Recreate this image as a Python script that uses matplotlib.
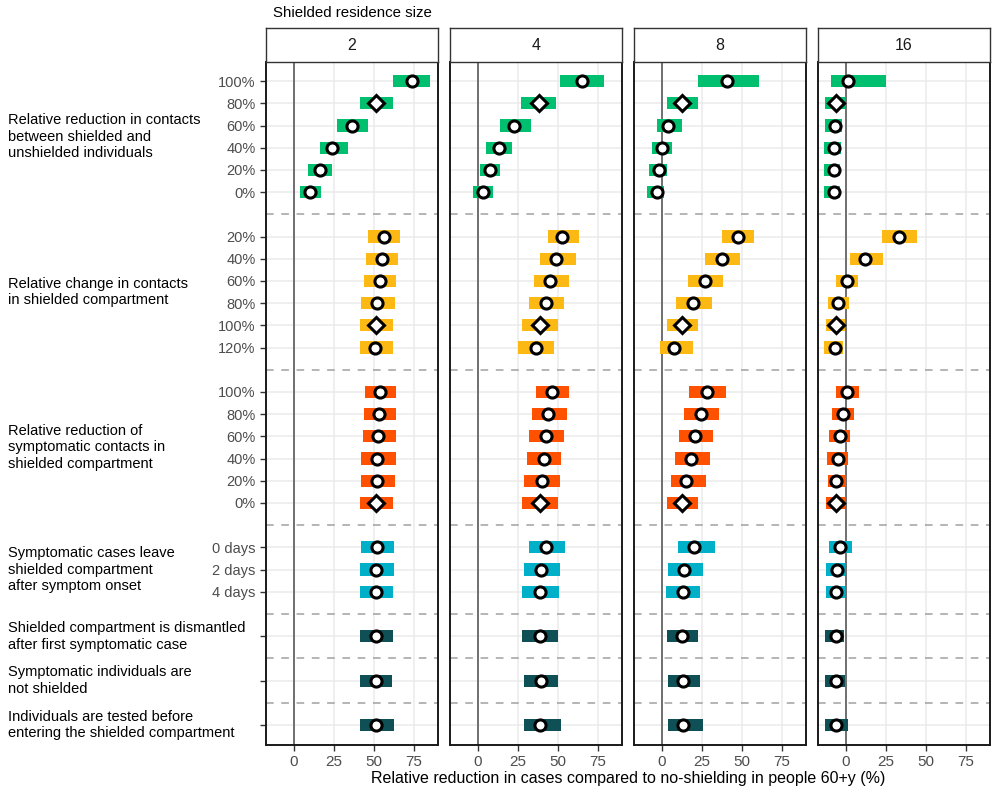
import matplotlib.pyplot as plt
import matplotlib.transforms as mtransforms

plt.rcParams['font.family'] = ['Liberation Sans', 'DejaVu Sans']

sizes = ["2", "4", "8", "16"]

# rows top-down; '' means no tick label
green_ticks = ["100%", "80%", "60%", "40%", "20%", "0%"]
yellow_ticks = ["20%", "40%", "60%", "80%", "100%", "120%"]
red_ticks = ["100%", "80%", "60%", "40%", "20%", "0%"]
cyan_ticks = ["0 days", "2 days", "4 days"]

group_labels = [
    "Relative reduction in contacts\nbetween shielded and\nunshielded individuals",
    "Relative change in contacts\nin shielded compartment",
    "Relative reduction of\nsymptomatic contacts in\nshielded compartment",
    "Symptomatic cases leave\nshielded compartment\nafter symptom onset",
    "Shielded compartment is dismantled\nafter first symptomatic case",
    "Symptomatic individuals are\nnot shielded",
    "Individuals are tested before\nentering the shielded compartment",
]

# values per residence size (2, 4, 8, 16), rows in tick order
green_med = [[74, 51, 36, 24, 16, 10], [65, 38, 22.5, 13, 7.5, 3],
             [40.5, 12.5, 4, 0, -2, -3], [1.5, -6, -7, -7.5, -7.5, -7.5]]
green_lo = [[62, 41, 27, 16, 9, 4], [51, 27, 14, 5, 1, -3],
            [22.5, 3, -3, -6, -8, -9.5], [-9.5, -13, -13, -13.5, -13.5, -13.5]]
green_hi = [[85, 62, 46, 34, 24, 17], [79, 49, 33, 21, 14, 9.5],
            [60.5, 22.5, 12.5, 6, 3, 1], [25, -0.5, -2.5, -3, -3.5, -3.5]]

yellow_med = [[56, 55, 54, 52, 51, 50.5], [52.5, 49, 45, 42.5, 39, 36],
              [47.5, 37.5, 27, 19.5, 12.5, 7.5], [33, 12, 0.5, -5, -6, -7]]
yellow_lo = [[46, 45, 44, 42, 41, 41], [44, 39, 35, 32, 27.5, 25],
             [37.5, 27, 16, 9, 3, -1], [22.5, 2.5, -6, -11, -12.5, -13.5]]
yellow_hi = [[66, 65, 64, 63, 62, 62], [63, 61, 57, 54, 50, 47.5],
             [57.5, 49, 38, 31, 22.5, 19.5], [44.5, 23, 7.5, 2, -0.5, -2]]

red_med = [[53.5, 53, 52.5, 52, 52, 51], [46, 44, 42.5, 41, 40, 39],
           [28, 24.5, 20.5, 18, 15, 12.5], [0.5, -2, -4, -5, -6, -6]]
red_lo = [[44.5, 44, 43, 42, 42, 41], [36, 34, 32, 30.5, 29, 27.5],
          [17, 14, 10.5, 8, 5.5, 3], [-6, -9, -10.5, -12, -11.5, -12.5]]
red_hi = [[64, 63.5, 63.5, 63.5, 63, 62], [57, 55.5, 54, 52, 51, 50],
          [40, 35.5, 32, 30, 27.5, 22.5], [8, 5, 2.5, 1, 0, -0.5]]

cyan_med = [[52, 51.5, 51], [42.5, 39.5, 39], [20, 14, 13], [-4, -5.5, -6]]
cyan_lo = [[42, 41, 41.5], [32, 29, 27.5], [10, 3.5, 2.5], [-10.5, -12.5, -12.5]]
cyan_hi = [[62.5, 62.5, 62], [54.5, 51, 50.5], [33, 25.5, 24], [4, -0.5, -0.5]]

# dismantled, not shielded, tested
teal_med = [[51.5, 51.5, 51], [39, 39.5, 39], [12.5, 13, 13], [-6, -6, -6]]
teal_lo = [[41, 41, 41.5], [27.5, 29, 29], [3, 3.5, 3.5], [-13, -13, -13]]
teal_hi = [[62, 61, 62.5], [50, 50, 52], [22.5, 24, 25.5], [-1, -0.5, 1.5]]

# baseline scenario (diamond) index in each group
green_base = 1
yellow_base = 4
red_base = 5

groups = [
    (green_ticks, green_med, green_lo, green_hi, "#00BF6F", green_base),
    (yellow_ticks, yellow_med, yellow_lo, yellow_hi, "#FDB913", yellow_base),
    (red_ticks, red_med, red_lo, red_hi, "#FF5100", red_base),
    (cyan_ticks, cyan_med, cyan_lo, cyan_hi, "#00AFC8", None),
    ([""], [[m[0]] for m in teal_med], [[m[0]] for m in teal_lo], [[m[0]] for m in teal_hi], "#0E5055", None),
    ([""], [[m[1]] for m in teal_med], [[m[1]] for m in teal_lo], [[m[1]] for m in teal_hi], "#0E5055", None),
    ([""], [[m[2]] for m in teal_med], [[m[2]] for m in teal_lo], [[m[2]] for m in teal_hi], "#0E5055", None),
]

# row positions: groups separated by one blank row
row_pos = []
sep_pos = []
y = 0
for gi, g in enumerate(groups):
    rows = []
    for _ in g[0]:
        rows.append(-y)
        y += 1
    row_pos.append(rows)
    if gi < len(groups) - 1:
        sep_pos.append(-y)
        y += 1

all_ticks = [p for rows in row_pos for p in rows]
all_labels = [lab for g in groups for lab in g[0]]

W, H = 1000, 796
fig = plt.figure(figsize=(W / 100, H / 100), dpi=100)

axes = []
for k, size in enumerate(sizes):
    x0 = 266 + 184 * k
    ax = fig.add_axes([x0 / W, 51 / H, 172 / W, 683 / H])
    axes.append(ax)
    ax.set_xlim(-17.5, 90)
    ax.set_ylim(-29.9, 0.86)
    ax.set_xticks([0, 25, 50, 75])
    ax.set_yticks(all_ticks)
    ax.grid(True, color="#EBEBEB", lw=1.1, zorder=0)
    ax.set_axisbelow(True)
    ax.axvline(0, color="#5A5A5A", lw=1.2, zorder=1)
    for s in sep_pos:
        ax.axhline(s, color="#A0A0A0", lw=1.1, ls=(0, (5, 5)), zorder=1)

    for gi, (ticks, med, lo, hi, col, base) in enumerate(groups):
        ys = row_pos[gi]
        m, l, h = med[k], lo[k], hi[k]
        ax.barh(ys, [b - a for a, b in zip(l, h)], left=l, height=0.55,
                color=col, edgecolor="none", zorder=2)
        for i, yy in enumerate(ys):
            if base is not None and i == base:
                ax.plot(m[i], yy, marker="D", ms=7.8, mfc="white", mec="black",
                        mew=2.2, zorder=3)
            else:
                ax.plot(m[i], yy, marker="o", ms=8, mfc="white", mec="black",
                        mew=2.2, zorder=3)

    for sp in ax.spines.values():
        sp.set_color("#1A1A1A")
        sp.set_linewidth(1.4)
    ax.tick_params(axis="x", labelsize=11, labelcolor="#4D4D4D",
                   color="#333333", length=4, width=1)
    if k == 0:
        ax.set_yticklabels(all_labels)
        ax.tick_params(axis="y", labelsize=10.5, labelcolor="#4D4D4D",
                       color="#333333", length=4, width=1)
    else:
        ax.tick_params(axis="y", length=0, labelleft=False)

    # facet strip
    sax = fig.add_axes([x0 / W, (H - 62) / H, 172 / W, 34 / H])
    sax.set_xticks([])
    sax.set_yticks([])
    for sp in sax.spines.values():
        sp.set_color("#333333")
        sp.set_linewidth(1.0)
    sax.text(0.5, 0.5, size, ha="center", va="center", fontsize=11.5,
             color="#1A1A1A", transform=sax.transAxes)

# group labels on the left
trans = mtransforms.blended_transform_factory(fig.transFigure, axes[0].transData)
for gi, lab in enumerate(group_labels):
    ys = row_pos[gi]
    yc = (ys[0] + ys[-1]) / 2
    axes[0].text(8 / W, yc, lab, transform=trans, ha="left", va="center",
                 fontsize=10.5, color="black", linespacing=1.25)

fig.text(273 / W, 1 - 13 / H, "Shielded residence size", ha="left",
         va="center", fontsize=10.8, color="black")
fig.text(628 / W, 1 - 778 / H,
         "Relative reduction in cases compared to no-shielding in people 60+y (%)",
         ha="center", va="center", fontsize=11.5, color="black")

fig.savefig("out.png", dpi=100)
